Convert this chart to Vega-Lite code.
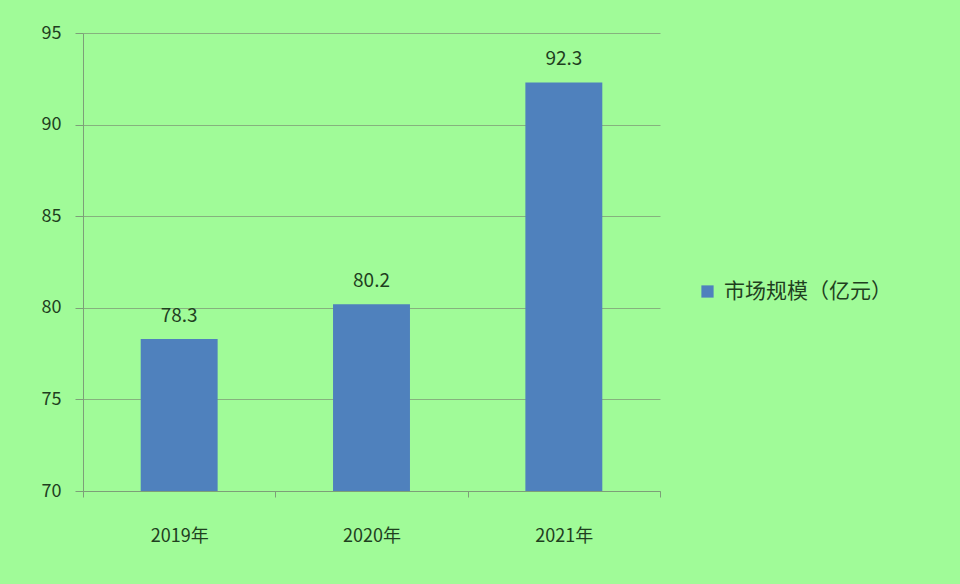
{
  "$schema": "https://vega.github.io/schema/vega-lite/v6.json",
  "autosize": {"type": "none"},
  "width": 577,
  "height": 458,
  "padding": {"left": 83, "top": 33, "right": 300, "bottom": 93},
  "background": "#a0fb98",
  "config": {
    "view": {"stroke": null},
    "font": "Noto Sans CJK SC",
    "axis": {"labelFont": "Noto Sans CJK SC", "labelColor": "#1f3f1f", "labelFontSize": 18, "domainColor": "#7d9f78", "tickColor": "#7d9f78", "gridColor": "#86b27e", "gridOpacity": 1}
  },
  "data": {"values": [
    {"year": "2019年", "value": 78.3, "series": "市场规模（亿元）"},
    {"year": "2020年", "value": 80.2, "series": "市场规模（亿元）"},
    {"year": "2021年", "value": 92.3, "series": "市场规模（亿元）"}
  ]},
  "encoding": {
    "x": {"field": "year", "type": "nominal", "sort": null, "title": null,
      "scale": {"paddingInner": 0, "paddingOuter": 0},
      "axis": {"labelAngle": 0, "labelPadding": 30, "tickBand": "extent", "tickSize": 6, "grid": false}},
    "y": {"field": "value", "type": "quantitative", "title": null,
      "scale": {"domain": [70, 95], "zero": false, "nice": false},
      "axis": {"values": [70, 75, 80, 85, 90, 95], "tickSize": 8, "labelPadding": 14, "grid": true}}
  },
  "layer": [
    {"mark": {"type": "bar", "clip": true, "width": {"band": 0.4}},
     "encoding": {
       "y2": {"datum": 70},
       "color": {"field": "series", "type": "nominal", "scale": {"range": ["#4f81bd"]},
         "legend": {"title": null, "orient": "none", "legendX": 614, "legendY": 248, "symbolType": "square", "symbolSize": 150, "labelFontSize": 21, "labelLimit": 300, "labelColor": "#1f3f1f", "labelFont": "Noto Sans CJK SC", "labelOffset": 6}}
     }},
    {"mark": {"type": "text", "baseline": "bottom", "dy": -13, "fontSize": 19, "color": "#1f3f1f", "font": "Noto Sans CJK SC"},
     "encoding": {"text": {"field": "value", "type": "quantitative", "format": ".1f"}}}
  ]
}
